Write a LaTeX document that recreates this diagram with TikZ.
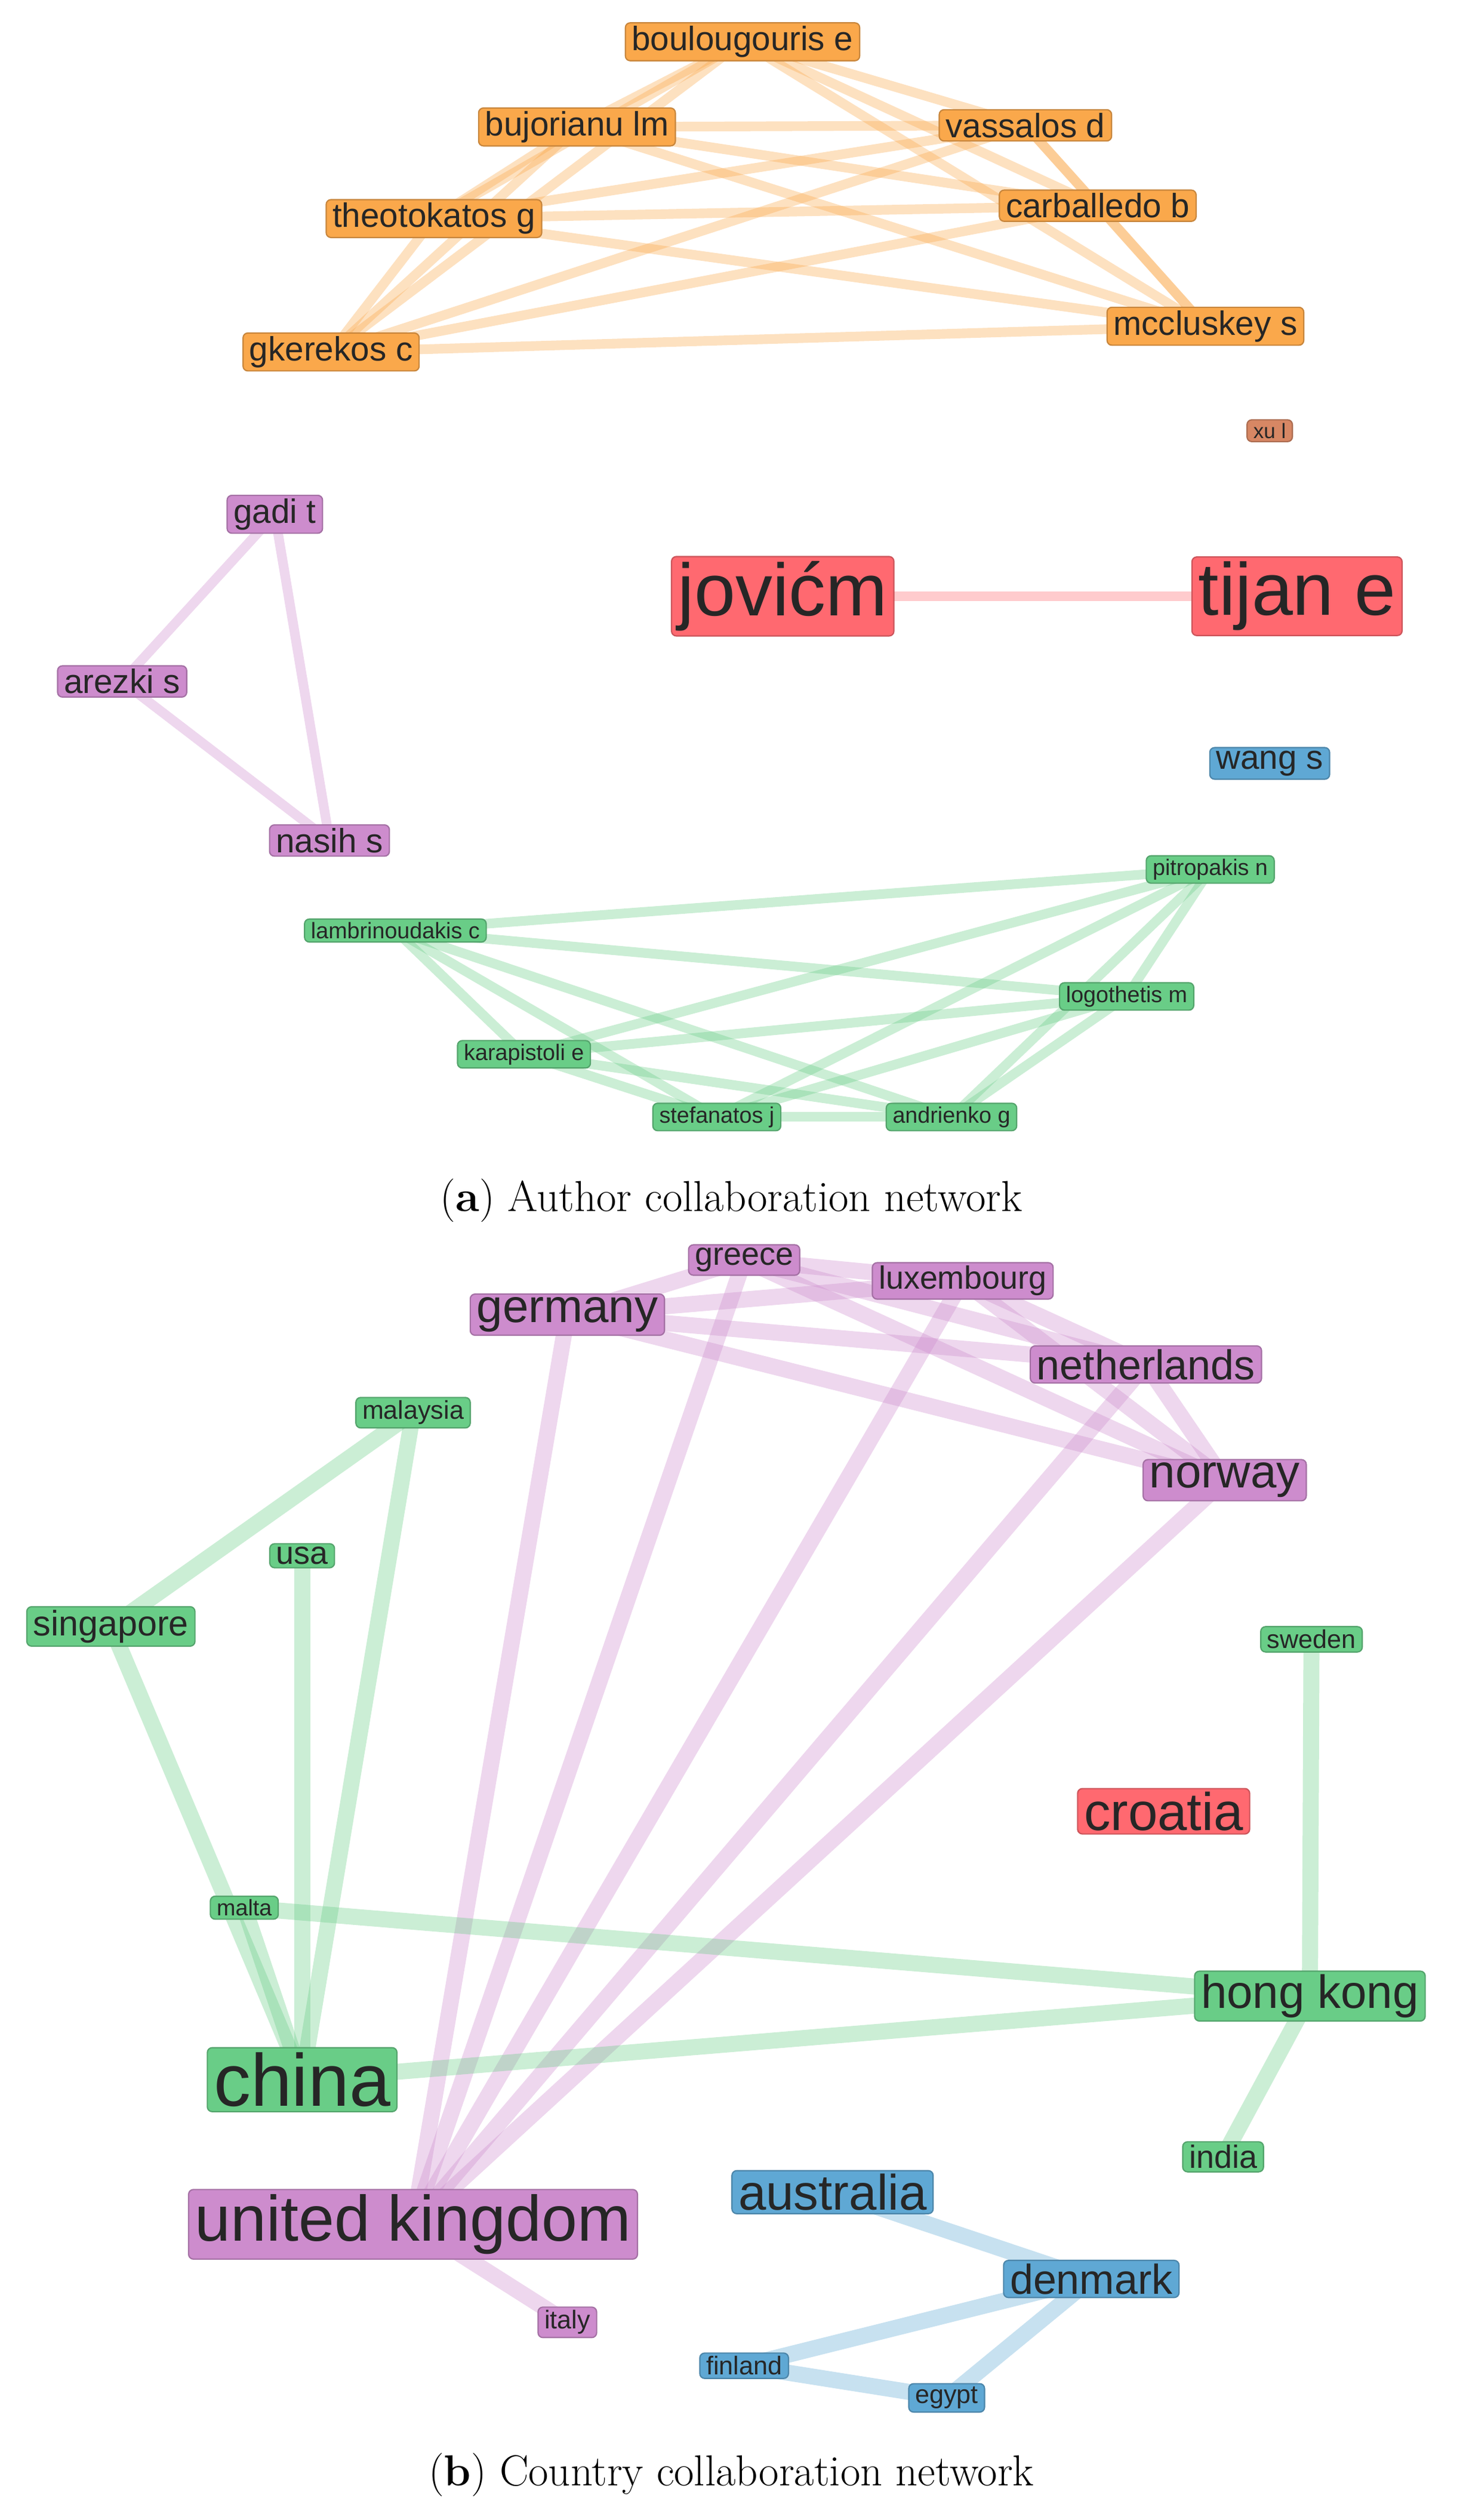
\documentclass[tikz,border=0pt]{standalone}
\usepackage{fontspec}
\newfontfamily\sansf{Liberation Sans}
\usetikzlibrary{backgrounds}
\newcommand{\myfs}[1]{\fontsize{#1}{#1}\selectfont}
\definecolor{cor}{RGB}{250,168,75}
\definecolor{cpu}{RGB}{205,140,205}
\definecolor{cgr}{RGB}{105,205,135}
\definecolor{cre}{RGB}{255,105,112}
\definecolor{cbl}{RGB}{95,168,212}
\definecolor{cbr}{RGB}{215,135,100}
\tikzset{
 nd/.style={draw=#1!80!black, fill=#1, rounded corners=3pt, line width=0.8pt, inner xsep=4pt, inner ysep=2pt, text=black!85, font=\sansf},
 ed/.style={draw=#1, opacity=0.35, line width=6pt},
 ec/.style={draw=#1, opacity=0.35, line width=10pt},
}
\begin{document}
\begin{tikzpicture}[x=1pt,y=-1pt]
\useasboundingbox (0,0) rectangle (910,1568);
% author network
\node[nd=cor,font=\sansf\myfs{21}] (bo) at (462,26) {boulougouris e};
\node[nd=cor,font=\sansf\myfs{21}] (bu) at (359,79) {bujorianu lm};
\node[nd=cor,font=\sansf\myfs{21}] (va) at (638,78) {vassalos d};
\node[nd=cor,font=\sansf\myfs{21}] (th) at (270,136) {theotokatos g};
\node[nd=cor,font=\sansf\myfs{21}] (ca) at (683,128) {carballedo b};
\node[nd=cor,font=\sansf\myfs{21}] (gk) at (206,219) {gkerekos c};
\node[nd=cor,font=\sansf\myfs{21}] (mc) at (750,203) {mccluskey s};
\node[nd=cbr,font=\sansf\myfs{13}] (xu) at (790,268) {xu l};
\node[nd=cre,font=\sansf\myfs{46},inner ysep=3pt] (jo) at (487,371) {jovićm};
\node[nd=cre,font=\sansf\myfs{46},inner ysep=3pt] (ti) at (807,371) {tijan e};
\node[nd=cbl,font=\sansf\myfs{21}] (wa) at (790,475) {wang s};
\node[nd=cpu,font=\sansf\myfs{21}] (ga) at (171,320) {gadi t};
\node[nd=cpu,font=\sansf\myfs{21}] (ar) at (76,424) {arezki s};
\node[nd=cpu,font=\sansf\myfs{21}] (na) at (205,523) {nasih s};
\node[nd=cgr,font=\sansf\myfs{14}] (pi) at (753,541) {pitropakis n};
\node[nd=cgr,font=\sansf\myfs{14}] (la) at (246,579) {lambrinoudakis c};
\node[nd=cgr,font=\sansf\myfs{14}] (lo) at (701,620) {logothetis m};
\node[nd=cgr,font=\sansf\myfs{14}] (ka) at (326,656) {karapistoli e};
\node[nd=cgr,font=\sansf\myfs{14}] (st) at (446,695) {stefanatos j};
\node[nd=cgr,font=\sansf\myfs{14}] (an) at (592,695) {andrienko g};
\node (capa) at (455,747) {\myfs{27}(\textbf{a}) Author collaboration network};
% country network
\node[nd=cpu,font=\sansf\myfs{20}] (gr) at (463,784) {greece};
\node[nd=cpu,font=\sansf\myfs{20}] (lu) at (599,797) {luxembourg};
\node[nd=cpu,font=\sansf\myfs{29}] (ge) at (353,818) {germany};
\node[nd=cpu,font=\sansf\myfs{26}] (ne) at (713,849) {netherlands};
\node[nd=cpu,font=\sansf\myfs{29}] (no) at (762,921) {norway};
\node[nd=cpu,font=\sansf\myfs{40},inner ysep=3pt] (uk) at (257,1384) {united kingdom};
\node[nd=cpu,font=\sansf\myfs{16}] (it) at (353,1445) {italy};
\node[nd=cgr,font=\sansf\myfs{16}] (ma) at (257,879) {malaysia};
\node[nd=cgr,font=\sansf\myfs{20}] (us) at (188,968) {usa};
\node[nd=cgr,font=\sansf\myfs{22}] (si) at (69,1012) {singapore};
\node[nd=cgr,font=\sansf\myfs{16}] (sw) at (816,1020) {sweden};
\node[nd=cgr,font=\sansf\myfs{14}] (mt) at (152,1187) {malta};
\node[nd=cgr,font=\sansf\myfs{29}] (hk) at (815,1242) {hong kong};
\node[nd=cgr,font=\sansf\myfs{46},inner ysep=3pt] (ch) at (188,1294) {china};
\node[nd=cgr,font=\sansf\myfs{20}] (in) at (761,1342) {india};
\node[nd=cre,font=\sansf\myfs{33}] (cr) at (724,1127) {croatia};
\node[nd=cbl,font=\sansf\myfs{31}] (au) at (518,1364) {australia};
\node[nd=cbl,font=\sansf\myfs{26}] (de) at (679,1418) {denmark};
\node[nd=cbl,font=\sansf\myfs{16}] (fi) at (463,1472) {finland};
\node[nd=cbl,font=\sansf\myfs{16}] (eg) at (589,1492) {egypt};
\node (capb) at (455,1540) {\myfs{27}(\textbf{b}) Country collaboration network};
\begin{scope}[on background layer]
\foreach \a/\b in {bo/bu,bo/va,bo/th,bo/ca,bo/gk,bo/mc,bu/va,bu/th,bu/ca,bu/gk,bu/mc,va/th,va/ca,va/gk,va/mc,th/ca,th/gk,th/mc,ca/gk,ca/mc,gk/mc}
  \draw[ed=cor] (\a.center) -- (\b.center);
\draw[ed=cre] (jo.center) -- (ti.center);
\foreach \a/\b in {ga/ar,ga/na,ar/na}
  \draw[ed=cpu] (\a.center) -- (\b.center);
\foreach \a/\b in {pi/la,pi/lo,pi/ka,pi/st,pi/an,la/lo,la/ka,la/st,la/an,lo/ka,lo/st,lo/an,ka/st,ka/an,st/an}
  \draw[ed=cgr] (\a.center) -- (\b.center);
\foreach \a/\b in {ge/gr,ge/lu,ge/ne,ge/no,gr/lu,gr/ne,gr/no,lu/ne,lu/no,ne/no,uk/ge,uk/gr,uk/lu,uk/ne,uk/no,uk/it}
  \draw[ec=cpu] (\a.center) -- (\b.center);
\foreach \a/\b in {ma/si,ma/ch,us/ch,si/ch,mt/ch,mt/hk,ch/hk,sw/hk,hk/in}
  \draw[ec=cgr] (\a.center) -- (\b.center);
\foreach \a/\b in {au/de,de/fi,de/eg,fi/eg}
  \draw[ec=cbl] (\a.center) -- (\b.center);
\end{scope}
\end{tikzpicture}
\end{document}
